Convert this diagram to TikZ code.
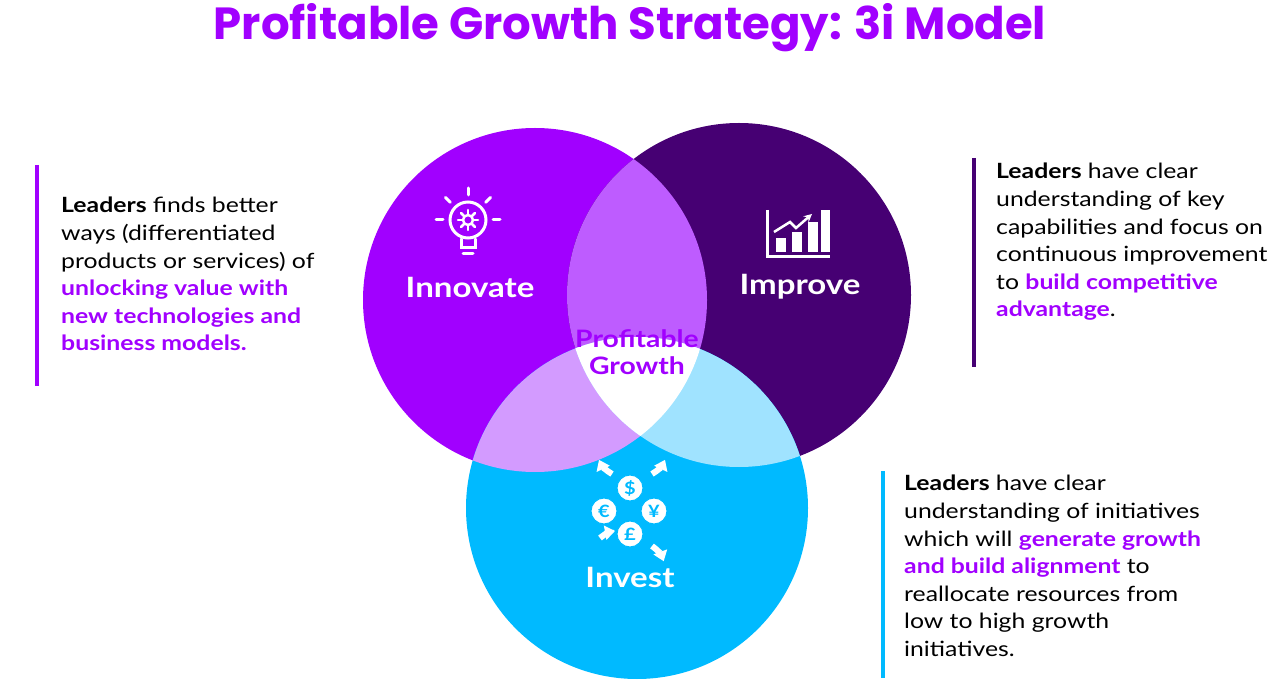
\documentclass[tikz,border=0pt]{standalone}
\usepackage{fontspec}
\usetikzlibrary{calc,arrows.meta}
\setmainfont[FakeStretch=1.18]{Lato}
\newfontfamily\titlefont{Poppins}
\definecolor{cInn}{HTML}{A100FF}
\definecolor{cImp}{HTML}{460073}
\definecolor{cInv}{HTML}{00BAFF}
\definecolor{cII}{HTML}{BE5CFF}
\definecolor{cIV}{HTML}{D39BFF}
\definecolor{cMV}{HTML}{A0E3FF}
\tikzset{
 body/.style={anchor=north west,align=left,font=\fontsize{21}{27.6}\selectfont,inner sep=0},
 clab/.style={text=white,font=\fontsize{28}{30}\bfseries\selectfont},
 bar/.style={line width=3.5pt},
 coin/.style={fill=white,draw=cInv,line width=1pt},
}
\newcommand{\hl}[1]{\textcolor{cInn}{\textbf{#1}}}
\begin{document}
\begin{tikzpicture}[x=1pt,y=-1pt]
\useasboundingbox (0,0) rectangle (1280,692);
\def\Ainn{(535,300) circle (172)}
\def\Aimp{(739,295) circle (172)}
\def\Ainv{(637,508) circle (171)}
\fill[cInn] \Ainn;
\fill[cImp] \Aimp;
\fill[cInv] \Ainv;
\begin{scope}\clip \Ainn; \fill[cII] \Aimp; \fill[cIV] \Ainv; \end{scope}
\begin{scope}\clip \Aimp; \fill[cMV] \Ainv; \end{scope}
\begin{scope}\clip \Ainn; \clip \Aimp; \fill[white] \Ainv; \end{scope}
\node[font=\titlefont\fontsize{45}{47}\bfseries\selectfont,text=cInn] (title) at (630,28) {Profitable Growth Strategy: 3i Model};
\node[clab] (inn) at (470,287) {Innovate};
\node[clab] (imp) at (800,287) {Improve};
\node[clab] (inv) at (630,577) {Invest};
\node[align=center,text=cInn,font=\fontsize{24}{27}\bfseries\selectfont] (pg) at (637,352) {Profitable\\Growth};
% bulb icon
\begin{scope}[white,line width=3pt,line cap=round]
\draw (468,220) circle (18);
\draw (461,239) -- (461,248) -- (475,248) -- (475,239);
\draw (463,254) -- (473,254);
\foreach \a in {0,45,90,135,180} \draw ($(468,220)+(\a:-25)$) -- ($(468,220)+(\a:-32)$);
\draw[line width=2.5pt] (468,220) circle (5);
\foreach \a in {0,45,...,315} \draw[line width=2.5pt] ($(468,220)+(\a:6)$) -- ($(468,220)+(\a:10)$);
\end{scope}
% chart icon
\begin{scope}[white]
\draw[line width=3pt] (767,210) -- (767,257) -- (830,257);
\fill (776,238) rectangle (786,252);
\fill (792,232) rectangle (802,252);
\fill (808,222) rectangle (818,252);
\fill (821,210) rectangle (830,252);
\draw[line width=2.5pt,-stealth] (774,232) -- (790,222) -- (796,228) -- (812,214);
\end{scope}
% invest icon
\begin{scope}
\foreach \p/\s in {{(630,488)}/\$,{(604,511)}/€,{(654,511)}/¥,{(630,534)}/£}
 \node[coin,circle,minimum size=26pt,inner sep=0,text=cInv,font=\bfseries\fontsize{17}{17}\selectfont] at \p {\s};
\draw[white,line width=6pt,-{Triangle[length=10pt,width=14pt]}] (612,474) arc (120:155:32);
\draw[white,line width=6pt,-{Triangle[length=10pt,width=14pt]}] (652,474) arc (60:25:32);
\draw[white,line width=6pt,-{Triangle[length=10pt,width=14pt]}] (600,538) arc (230:260:32);
\draw[white,line width=6pt,-{Triangle[length=10pt,width=14pt]}] (652,546) arc (-55:-20:32);
\end{scope}
% bars
\draw[bar,cInn] (37,165) -- (37,386);
\draw[bar,cImp] (974,158) -- (974,367);
\draw[bar,cInv] (883,471) -- (883,678);
\node[body] (t1) at (61,197) {\textbf{Leaders} finds better\\ways (differentiated\\products or services) of\\\hl{unlocking value with}\\\hl{new technologies and}\\\hl{business models.}};
\node[body] (t2) at (996,163) {\textbf{Leaders} have clear\\understanding of key\\capabilities and focus on\\continuous improvement\\to \hl{build competitive}\\\hl{advantage}.};
\node[body] (t3) at (904,475) {\textbf{Leaders} have clear\\understanding of initiatives\\which will \hl{generate growth}\\\hl{and build alignment} to\\reallocate resources from\\low to high growth\\initiatives.};
\end{tikzpicture}
\end{document}
